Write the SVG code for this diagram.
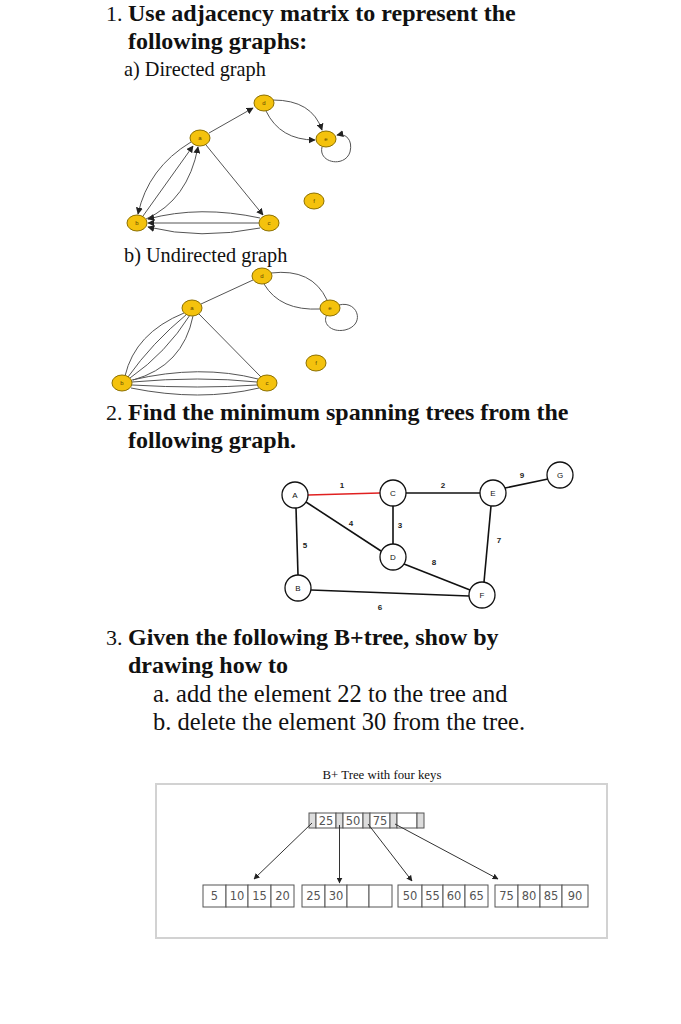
<svg xmlns="http://www.w3.org/2000/svg" width="681" height="1024" viewBox="0 0 681 1024">
<defs>
<style>
.h{font-family:"Liberation Serif","Times New Roman",serif;font-size:24px;font-weight:bold;fill:#111}
.n{font-family:"Liberation Serif","Times New Roman",serif;font-size:22px;fill:#111}
.s{font-family:"Liberation Serif","Times New Roman",serif;font-size:20.3px;fill:#111}
.t{font-family:"Liberation Serif","Times New Roman",serif;font-size:24.5px;fill:#111}
.gn ellipse{fill:#f4c20d;stroke:#8c7000;stroke-width:1}
.gn text{font-family:"Liberation Sans",Arial,sans-serif;font-size:6px;fill:#5a4400;text-anchor:middle}
.ge{fill:none;stroke:#555;stroke-width:1}
.ga{fill:none;stroke:#555;stroke-width:1;marker-end:url(#ah)}
.mn circle{fill:#fff;stroke:#111;stroke-width:1.3}
.mn text{font-family:"Liberation Sans",Arial,sans-serif;font-size:8px;fill:#111;text-anchor:middle}
.me{stroke:#111;stroke-width:1.6;fill:none}
.ml{font-family:"Liberation Sans",Arial,sans-serif;font-size:8px;fill:#222;text-anchor:middle;font-weight:bold}
.cell{fill:#fff;stroke:#555;stroke-width:1}
.ptr{fill:#ddd;stroke:#555;stroke-width:1}
.k{font-family:"DejaVu Sans",sans-serif;font-size:11.5px;fill:#555;text-anchor:middle}
.ba{stroke:#333;stroke-width:1;fill:none;marker-end:url(#ah2)}
</style>
<marker id="ah" viewBox="0 0 10 10" refX="9" refY="5" markerWidth="7" markerHeight="7" orient="auto" markerUnits="userSpaceOnUse"><path d="M0,0 L10,5 L0,10 z" fill="#222"/></marker>
<marker id="ah2" viewBox="0 0 10 10" refX="9" refY="5" markerWidth="6" markerHeight="6" orient="auto" markerUnits="userSpaceOnUse"><path d="M0,0 L10,5 L0,10 z" fill="#222"/></marker>
</defs>
<rect width="681" height="1024" fill="#fff"/>

<!-- Headings -->
<text class="n" x="106" y="21">1.</text>
<text class="h" x="128" y="21">Use adjacency matrix to represent the</text>
<text class="h" x="128" y="49">following graphs:</text>
<text class="s" x="124" y="76">a) Directed graph</text>
<text class="s" x="124" y="262">b) Undirected graph</text>
<text class="n" x="106" y="420">2.</text>
<text class="h" x="128" y="420">Find the minimum spanning trees from the</text>
<text class="h" x="128" y="448">following graph.</text>
<text class="n" x="106" y="645">3.</text>
<text class="h" x="128" y="645">Given the following B+tree, show by</text>
<text class="h" x="128" y="673">drawing how to</text>
<text class="t" x="153" y="702">a. add the element 22 to the tree and</text>
<text class="t" x="153" y="730">b. delete the element 30 from the tree.</text>

<!-- Directed graph connectors -->
<g id="directed-edges">
<path class="ga" d="M209,133 L253,108"/>
<path class="ga" d="M273,100 Q312,100 322,130"/>
<path class="ga" d="M266,111 Q280,140 315,140"/>
<path class="ga" d="M322,147 C318,163 345,168 350,152 C353,140 346,133 337,135"/>
<path class="ga" d="M206,145 L263,215"/>
<path class="ga" d="M191,142 Q148,168 138,214"/>
<path class="ga" d="M143,216 L193,146"/>
<path class="ga" d="M146,219 Q188,200 198,147"/>
<path class="ga" d="M260,218 Q200,205 148,219"/>
<path class="ga" d="M259,223 L148,223"/>
<path class="ga" d="M260,228 Q200,240 148,227"/>
</g>
<g id="dg-a" class="gn"><ellipse cx="200" cy="138" rx="10" ry="8"/><text x="200" y="140">a</text></g>
<g id="dg-b" class="gn"><ellipse cx="137" cy="223" rx="10" ry="8"/><text x="137" y="225">b</text></g>
<g id="dg-c" class="gn"><ellipse cx="269" cy="223" rx="10" ry="8"/><text x="269" y="225">c</text></g>
<g id="dg-d" class="gn"><ellipse cx="264" cy="103" rx="10" ry="8"/><text x="264" y="105">d</text></g>
<g id="dg-e" class="gn"><ellipse cx="326" cy="139" rx="10" ry="8"/><text x="326" y="141">e</text></g>
<g id="dg-f" class="gn"><ellipse cx="314" cy="201" rx="10" ry="8"/><text x="314" y="203">f</text></g>

<!-- Undirected graph connectors -->
<g id="undirected-edges">
<path class="ge" d="M201,304 L253,280"/>
<path class="ge" d="M271,273 Q312,268 327,300"/>
<path class="ge" d="M264,284 Q280,311 320,309"/>
<path class="ge" d="M339,305 C358,300 366,325 345,330 C330,333 322,322 327,315"/>
<path class="ge" d="M199,314 L261,377"/>
<path class="ge" d="M184,313 Q135,333 125,376"/>
<path class="ge" d="M187,314 Q152,343 128,377"/>
<path class="ge" d="M190,315 Q166,353 130,378"/>
<path class="ge" d="M193,316 Q183,366 133,380"/>
<path class="ge" d="M132,380 Q200,364 258,379"/>
<path class="ge" d="M132,382 Q200,376 257,382"/>
<path class="ge" d="M132,385 Q200,389 257,385"/>
<path class="ge" d="M131,388 Q200,402 259,388"/>
</g>
<g id="ug-a" class="gn"><ellipse cx="192" cy="308" rx="10" ry="8"/><text x="192" y="310">a</text></g>
<g id="ug-b" class="gn"><ellipse cx="122" cy="383" rx="10" ry="8"/><text x="122" y="385">b</text></g>
<g id="ug-c" class="gn"><ellipse cx="267" cy="383" rx="10" ry="8"/><text x="267" y="385">c</text></g>
<g id="ug-d" class="gn"><ellipse cx="262" cy="276" rx="10" ry="8"/><text x="262" y="278">d</text></g>
<g id="ug-e" class="gn"><ellipse cx="330" cy="308" rx="10" ry="8"/><text x="330" y="310">e</text></g>
<g id="ug-f" class="gn"><ellipse cx="316" cy="363" rx="10" ry="8"/><text x="316" y="365">f</text></g>

<!-- MST graph connectors -->
<g id="mst-edges">
<line x1="308" y1="495" x2="380" y2="493" stroke="#e02020" stroke-width="1.6"/>
<line class="me" x1="406" y1="493" x2="480" y2="493"/>
<line class="me" x1="505" y1="488" x2="548" y2="479"/>
<line class="me" x1="393" y1="506" x2="393" y2="544"/>
<line class="me" x1="306" y1="502" x2="381" y2="551"/>
<line class="me" x1="296" y1="508" x2="298" y2="575"/>
<line class="me" x1="491" y1="506" x2="484" y2="582"/>
<line class="me" x1="404" y1="564" x2="470" y2="590"/>
<line class="me" x1="311" y1="590" x2="469" y2="596"/>
<text class="ml" x="342" y="488">1</text>
<text class="ml" x="443" y="488">2</text>
<text class="ml" x="522" y="478">9</text>
<text class="ml" x="400" y="528">3</text>
<text class="ml" x="351" y="526">4</text>
<text class="ml" x="305" y="548">5</text>
<text class="ml" x="499" y="543">7</text>
<text class="ml" x="434" y="565">8</text>
<text class="ml" x="380" y="610">6</text>
</g>
<g id="mst-A" class="mn"><circle cx="295" cy="495" r="13"/><text x="295" y="498">A</text></g>
<g id="mst-C" class="mn"><circle cx="393" cy="493" r="13"/><text x="393" y="496">C</text></g>
<g id="mst-E" class="mn"><circle cx="493" cy="493" r="13"/><text x="493" y="496">E</text></g>
<g id="mst-G" class="mn"><circle cx="560" cy="475" r="13"/><text x="560" y="478">G</text></g>
<g id="mst-D" class="mn"><circle cx="393" cy="557" r="13"/><text x="393" y="560">D</text></g>
<g id="mst-B" class="mn"><circle cx="298" cy="588" r="13"/><text x="298" y="591">B</text></g>
<g id="mst-F" class="mn"><circle cx="482" cy="595" r="13"/><text x="482" y="598">F</text></g>

<!-- B+ tree -->
<text x="382" y="779" text-anchor="middle" font-family="Liberation Serif, Times New Roman, serif" font-size="12.8" fill="#111">B+ Tree with four keys</text>
<rect x="156" y="784" width="451" height="154" fill="#fff" stroke="#d2d2d2" stroke-width="2"/>

<g id="bt-root">
<rect class="ptr" x="309" y="813" width="7" height="15"/>
<rect class="cell" x="316" y="813" width="20" height="15"/>
<rect class="ptr" x="336" y="813" width="7" height="15"/>
<rect class="cell" x="343" y="813" width="20" height="15"/>
<rect class="ptr" x="363" y="813" width="7" height="15"/>
<rect class="cell" x="370" y="813" width="20" height="15"/>
<rect class="ptr" x="390" y="813" width="7" height="15"/>
<rect class="cell" x="397" y="813" width="20" height="15"/>
<rect class="ptr" x="417" y="813" width="7" height="15"/>
<text class="k" x="326" y="825">25</text>
<text class="k" x="353" y="825">50</text>
<text class="k" x="380" y="825">75</text>
</g>
<g id="bt-leaf1">
<rect class="cell" x="203" y="885" width="23" height="22"/>
<rect class="cell" x="226" y="885" width="22" height="22"/>
<rect class="cell" x="248" y="885" width="23" height="22"/>
<rect class="cell" x="271" y="885" width="23" height="22"/>
<text class="k" x="214.5" y="900">5</text>
<text class="k" x="237" y="900">10</text>
<text class="k" x="259.5" y="900">15</text>
<text class="k" x="282.5" y="900">20</text>
</g>
<g id="bt-leaf2">
<rect class="cell" x="302" y="885" width="23" height="22"/>
<rect class="cell" x="325" y="885" width="22" height="22"/>
<rect class="cell" x="347" y="885" width="22" height="22"/>
<rect class="cell" x="369" y="885" width="23" height="22"/>
<text class="k" x="313.5" y="900">25</text>
<text class="k" x="336" y="900">30</text>
</g>
<g id="bt-leaf3">
<rect class="cell" x="398" y="885" width="24" height="22"/>
<rect class="cell" x="422" y="885" width="21" height="22"/>
<rect class="cell" x="443" y="885" width="22" height="22"/>
<rect class="cell" x="465" y="885" width="23" height="22"/>
<text class="k" x="410" y="900">50</text>
<text class="k" x="432.5" y="900">55</text>
<text class="k" x="454" y="900">60</text>
<text class="k" x="476.5" y="900">65</text>
</g>
<g id="bt-leaf4">
<rect class="cell" x="495" y="885" width="23" height="22"/>
<rect class="cell" x="518" y="885" width="22" height="22"/>
<rect class="cell" x="540" y="885" width="22" height="22"/>
<rect class="cell" x="562" y="885" width="26" height="22"/>
<text class="k" x="506.5" y="900">75</text>
<text class="k" x="529" y="900">80</text>
<text class="k" x="551" y="900">85</text>
<text class="k" x="575" y="900">90</text>
</g>
<g id="bt-edges">
<path class="ba" d="M312,823 L254,879"/>
<path class="ba" d="M339.5,825 L339.5,883"/>
<path class="ba" d="M368,824 L412,881"/>
<path class="ba" d="M395,824 L498,879"/>
</g>
</svg>
